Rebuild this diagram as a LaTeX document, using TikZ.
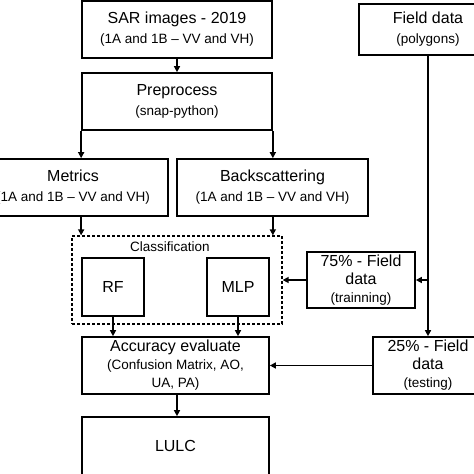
\documentclass[tikz,border=0pt]{standalone}
\usepackage{fontspec}
\setmainfont{Liberation Sans}
\usetikzlibrary{arrows.meta,calc}
\begin{document}
\begin{tikzpicture}[x=1pt,y=-1pt,
  box/.style={draw,line width=1.7pt,rectangle,align=center,inner sep=0pt,font=\fontsize{16}{19}\selectfont},
  cbox/.style={draw,line width=1.3pt,dash pattern=on 3pt off 2pt,rectangle,inner sep=0pt},
  arr/.style={line width=1.7pt,-{Triangle[length=6pt,width=6pt]}}]
\useasboundingbox (0,0) rectangle (474,474);
\clip (0,0) rectangle (474,474);
\newcommand\subt[1]{{\fontsize{13.5}{17}\selectfont #1}}
\node[box,minimum width=190pt,minimum height=57pt] (sar) at (177,29.5) {SAR images - 2019\\[1pt]\subt{(1A and 1B -- VV and VH)}};
\node[box,minimum width=190pt,minimum height=57pt] (pre) at (177,101.5) {Preprocess\\[1pt]\subt{(snap-python)}};
\node[box,minimum width=138pt,minimum height=51pt] (field) at (428,29.5) {Field data\\[1pt]\subt{(polygons)}};
\node[box,minimum width=190pt,minimum height=57pt] (met) at (73,187.5) {Metrics\\[1pt]\subt{(1A and 1B -- VV and VH)}};
\node[box,minimum width=191pt,minimum height=57pt] (back) at (272.5,187.5) {Backscattering\\[1pt]\subt{(1A and 1B -- VV and VH)}};
\node[cbox,minimum width=210pt,minimum height=88pt] (cls) at (177,280) {};
\node[font=\fontsize{13.5}{16}\selectfont] (clsl) at (170,247) {Classification};
\node[box,minimum width=62pt,minimum height=58pt] (rf) at (113,287) {RF};
\node[box,minimum width=62pt,minimum height=58pt] (mlp) at (238,287) {MLP};
\node[box,minimum width=108pt,minimum height=56pt,font=\fontsize{16}{18}\selectfont] (f75) at (361,280) {75\% - Field\\data\\\subt{(trainning)}};
\node[box,minimum width=187pt,minimum height=57pt,font=\fontsize{16}{18}\selectfont] (acc) at (175.5,365.5) {Accuracy evaluate\\\subt{(Confusion Matrix, AO,}\\\subt{UA, PA)}};
\node[box,minimum width=110pt,minimum height=57pt,font=\fontsize{16}{18}\selectfont] (f25) at (428,365.5) {25\% - Field\\data\\\subt{(testing)}};
\node[box,minimum width=187pt,minimum height=58pt] (lulc) at (175.5,446) {LULC};
\coordinate (j) at (field.south |- f75.east);
\draw[arr] (sar.south) -- (pre.north);
\draw[arr] (pre.south west) -- (pre.south west |- met.north);
\draw[arr] (pre.south east) -- (pre.south east |- back.north);
\draw[arr] (pre.south west |- met.south) -- (pre.south west |- cls.north);
\draw[arr] (pre.south east |- back.south) -- (pre.south east |- cls.north);
\draw[arr] (rf.south) -- (rf.south |- acc.north);
\draw[arr] (mlp.south) -- (mlp.south |- acc.north);
\draw[arr] (field.south) -- (f25.north);
\draw[arr] (j) -- (f75.east);
\draw[arr] (f75.west) -- (cls.east |- f75.west);
\draw[arr] (f25.west) -- (acc.east |- f25.west);
\draw[arr] (acc.south -| sar.south) -- (lulc.north -| sar.south);
\end{tikzpicture}
\end{document}
